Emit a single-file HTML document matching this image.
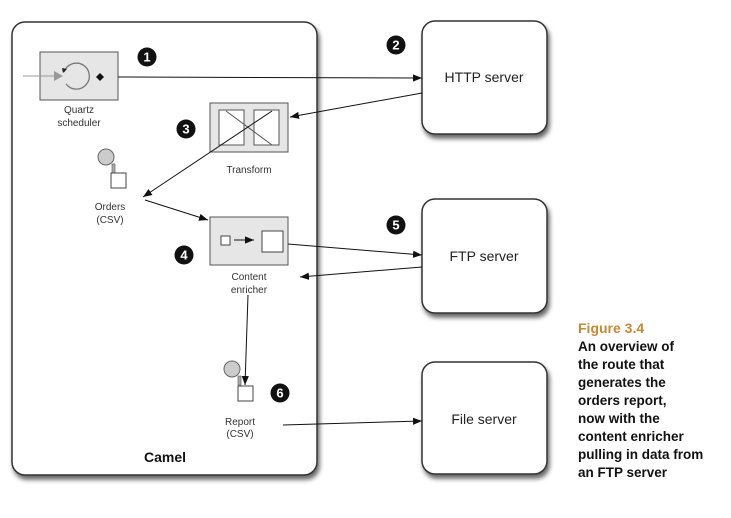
<!DOCTYPE html>
<html><head><meta charset="utf-8"><style>
html,body{margin:0;padding:0;background:#fff;}
svg{display:block;}
text{font-family:"Liberation Sans",Arial,sans-serif;}
</style></head><body>
<svg width="731" height="518" viewBox="0 0 731 518" xmlns="http://www.w3.org/2000/svg">
<defs>
<marker id="a" viewBox="0 0 10 10" refX="10" refY="5" markerWidth="9" markerHeight="9" orient="auto" markerUnits="userSpaceOnUse"><path d="M0,1 L10,5 L0,9 z" fill="#111"/></marker>
<filter id="sh" x="-10%" y="-10%" width="130%" height="130%"><feGaussianBlur in="SourceAlpha" stdDeviation="2.5"/><feOffset dx="2" dy="4"/><feComponentTransfer><feFuncA type="linear" slope="0.6"/></feComponentTransfer><feMerge><feMergeNode/><feMergeNode in="SourceGraphic"/></feMerge></filter>
</defs>
<rect x="12" y="22" width="305" height="453" rx="13" fill="#fff" stroke="#333" stroke-width="1.5" filter="url(#sh)"/>
<rect x="422" y="21" width="125" height="113" rx="13" fill="#fff" stroke="#333" stroke-width="1.5" filter="url(#sh)"/>
<rect x="422" y="199" width="125" height="114" rx="13" fill="#fff" stroke="#333" stroke-width="1.5" filter="url(#sh)"/>
<rect x="422" y="362" width="125" height="112" rx="13" fill="#fff" stroke="#333" stroke-width="1.5" filter="url(#sh)"/>
<text x="484" y="82" font-size="14" text-anchor="middle" fill="#222">HTTP server</text>
<text x="484" y="261" font-size="14" text-anchor="middle" fill="#222">FTP server</text>
<text x="484" y="424" font-size="14" text-anchor="middle" fill="#222">File server</text>
<!-- quartz -->
<rect x="40" y="52" width="78" height="48" fill="#e6e6e6" stroke="#555"/>
<line x1="23" y1="76" x2="62" y2="76" stroke="#999"/>
<path d="M54,71 L63,76 L54,81 z" fill="#999"/>
<path d="M64,72 A13,13 0 1 1 66,84" fill="none" stroke="#777" stroke-width="1.3"/>
<path d="M62,68 L67,69 L63,73 z" fill="#222"/>
<path d="M100,73 L104,77 L100,81 L96,77 z" fill="#111"/>
<text x="79" y="113" font-size="10" text-anchor="middle" fill="#333">Quartz</text>
<text x="79" y="126" font-size="10" text-anchor="middle" fill="#333">scheduler</text>
<line x1="118" y1="77" x2="422" y2="78" stroke="#111" marker-end="url(#a)"/>
<!-- transform -->
<rect x="210" y="103" width="78" height="49" fill="#e6e6e6" stroke="#555"/>
<rect x="219" y="110" width="25" height="35" fill="#fff" stroke="#555"/>
<rect x="254" y="110" width="25" height="35" fill="#fff" stroke="#555"/>
<line x1="226" y1="111" x2="272" y2="145" stroke="#555"/>
<line x1="422" y1="93" x2="290" y2="117" stroke="#111" marker-end="url(#a)"/>
<line x1="272" y1="111" x2="143" y2="197" stroke="#111" marker-end="url(#a)"/>
<text x="249" y="173" font-size="10" text-anchor="middle" fill="#333">Transform</text>
<!-- orders -->
<rect x="112" y="164" width="3" height="9" fill="#aaa" stroke="#666" stroke-width="0.7"/>
<circle cx="106" cy="157" r="8" fill="#ccc" stroke="#666"/>
<rect x="111" y="173" width="15" height="15" fill="#fff" stroke="#444"/>
<text x="110" y="210" font-size="10" text-anchor="middle" fill="#333">Orders</text>
<text x="110" y="223" font-size="10" text-anchor="middle" fill="#333">(CSV)</text>
<line x1="145" y1="200" x2="208" y2="220" stroke="#111" marker-end="url(#a)"/>
<!-- enricher -->
<rect x="210" y="217" width="78" height="48" fill="#e6e6e6" stroke="#555"/>
<rect x="221" y="236" width="9" height="9" fill="#fff" stroke="#444"/>
<line x1="234" y1="240" x2="254" y2="240" stroke="#111" marker-end="url(#a)"/>
<rect x="262" y="231" width="21" height="21" fill="#fff" stroke="#444"/>
<text x="249" y="280" font-size="10" text-anchor="middle" fill="#333">Content</text>
<text x="249" y="293" font-size="10" text-anchor="middle" fill="#333">enricher</text>
<line x1="288" y1="244" x2="422" y2="255" stroke="#111" marker-end="url(#a)"/>
<line x1="422" y1="267" x2="300" y2="277" stroke="#111" marker-end="url(#a)"/>
<line x1="248" y1="295" x2="245" y2="385" stroke="#111" marker-end="url(#a)"/>
<!-- report -->
<rect x="238" y="376" width="3" height="9" fill="#aaa" stroke="#666" stroke-width="0.7"/>
<circle cx="232" cy="369" r="8" fill="#ccc" stroke="#666"/>
<rect x="238" y="386" width="15" height="15" fill="#fff" stroke="#444"/>
<text x="240" y="425" font-size="10" text-anchor="middle" fill="#333">Report</text>
<text x="240" y="437" font-size="10" text-anchor="middle" fill="#333">(CSV)</text>
<line x1="283" y1="425" x2="422" y2="421" stroke="#111" marker-end="url(#a)"/>
<text x="165" y="462" font-size="14" font-weight="bold" text-anchor="middle" fill="#111">Camel</text>
<!-- markers -->
<g font-size="13" font-weight="bold" fill="#fff" text-anchor="middle">
<circle cx="147" cy="57" r="9.5" fill="#111"/><text x="147" y="61.5">1</text>
<circle cx="396" cy="45" r="9.5" fill="#111"/><text x="396" y="49.5">2</text>
<circle cx="186" cy="129" r="9.5" fill="#111"/><text x="186" y="133.5">3</text>
<circle cx="184" cy="255" r="9.5" fill="#111"/><text x="184" y="259.5">4</text>
<circle cx="396" cy="225" r="9.5" fill="#111"/><text x="396" y="229.5">5</text>
<circle cx="280" cy="393" r="9.5" fill="#111"/><text x="280" y="397.5">6</text>
</g>
<!-- caption -->
<text x="578" y="333" font-size="14" font-weight="bold" fill="#c8892f">Figure 3.4</text>
<g font-size="13.5" font-weight="bold" fill="#111">
<text x="578" y="351">An overview of</text>
<text x="578" y="369">the route that</text>
<text x="578" y="387">generates the</text>
<text x="578" y="405">orders report,</text>
<text x="578" y="423">now with the</text>
<text x="578" y="441">content enricher</text>
<text x="578" y="459">pulling in data from</text>
<text x="578" y="477">an FTP server</text>
</g>
</svg>
</body></html>
